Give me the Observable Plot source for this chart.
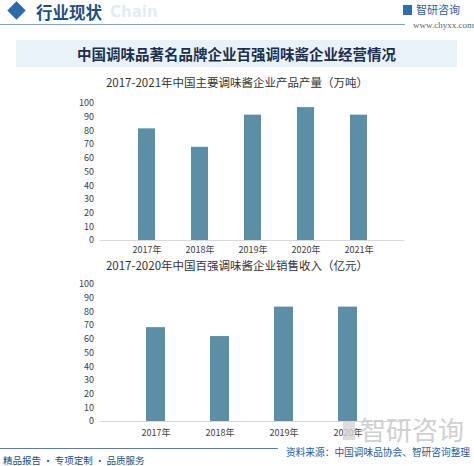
<!DOCTYPE html>
<html>
<head>
<meta charset="utf-8">
<script src="https://cdn.jsdelivr.net/npm/d3@7"></script>
<script src="https://cdn.jsdelivr.net/npm/@observablehq/plot@0.6"></script>
<style>
  html, body { margin: 0; padding: 0; background: #fff; }
  #page { position: relative; width: 474px; height: 466px; overflow: hidden; background: #fff;
          font-family: "Noto Sans CJK SC", "Noto Sans", sans-serif; }
  .abs { position: absolute; white-space: nowrap; }
  .plot { position: absolute; left: 0; }
</style>
</head>
<body>
<div id="page">
  <!-- header -->
  <div class="abs" style="left:10px;top:4px;width:13px;height:13px;background:#2a6aaa;transform:rotate(45deg);"></div>
  <div class="abs" style="left:110px;top:3px;font-family:'DejaVu Sans';font-weight:bold;font-size:15px;line-height:18px;color:#e3ecf5;">Chain</div>
  <div class="abs" style="left:36px;top:1px;font-size:16.5px;line-height:22px;font-weight:bold;color:#1f4f7e;">行业现状</div>
  <div class="abs" style="left:0;top:24px;width:405px;height:1px;background:#7fa6c8;"></div>
  <div class="abs" style="left:403px;top:5px;width:9px;height:10px;background:#2f6cb0;"></div>
  <div class="abs" style="left:416px;top:2px;font-size:11px;line-height:14px;color:#2f62a3;">智研咨询</div>
  <div class="abs" style="left:413px;top:20px;font-family:'Liberation Serif';font-size:9px;line-height:11px;color:#666;">www.chyxx.com</div>

  <!-- title band -->
  <div class="abs" style="left:16px;top:40px;width:441px;height:27px;background:#e9f2f9;"></div>
  <div class="abs" style="left:16px;top:41px;width:441px;text-align:center;font-size:14.5px;font-weight:bold;color:#1c2f4d;line-height:26px;">中国调味品著名品牌企业百强调味酱企业经营情况</div>

  <div class="abs" id="sub1" style="left:0;top:74px;width:474px;text-align:center;font-size:11.5px;color:#333;"></div>
  <div id="chart1" class="plot" style="top:95px;"></div>

  <div class="abs" id="sub2" style="left:0;top:257px;width:474px;text-align:center;font-size:11.5px;color:#333;"></div>
  <div id="chart2" class="plot" style="top:275px;"></div>

  <!-- footer watermark -->
  <div class="abs" style="left:343px;top:421px;width:12px;height:19px;background:#d4d4d4;opacity:0.8;"></div>
  <div class="abs" style="left:360px;top:416px;font-size:26px;line-height:26px;color:#c8c8c8;opacity:0.85;">智研咨询</div>
  <div class="abs" style="left:0;top:448px;width:278px;height:1px;background:#5a7fa8;"></div>
  <div class="abs" style="left:286px;top:447px;font-size:9.7px;line-height:11px;color:#1f5c9c;">资料来源：中国调味品协会、智研咨询整理</div>
  <div class="abs" style="left:3px;top:455px;font-size:9.5px;line-height:11px;color:#1f4e7d;">精品报告 · 专项定制 · 品质服务</div>
</div>
<script>
const subtitle1 = "2017-2021年中国主要调味酱企业产品产量（万吨）";
const years1 = ["2017年", "2018年", "2019年", "2020年", "2021年"];
const output = [81.5, 68, 91.5, 97, 91.5];

const subtitle2 = "2017-2020年中国百强调味酱企业销售收入（亿元）";
const years2 = ["2017年", "2018年", "2019年", "2020年"];
const revenue = [68.5, 62, 83.5, 83.5];

const yTicks = [0, 10, 20, 30, 40, 50, 60, 70, 80, 90, 100];

document.getElementById("sub1").textContent = subtitle1;
document.getElementById("sub2").textContent = subtitle2;

function makeChart(years, values, opts) {
  const data = years.map((y, i) => ({year: y, value: values[i]}));
  return Plot.plot({
    width: 474,
    height: opts.height,
    marginTop: opts.marginTop,
    marginBottom: opts.marginBottom,
    marginLeft: 99.5,
    marginRight: opts.marginRight,
    style: {fontFamily: "'Noto Sans CJK SC', sans-serif", fontSize: "9px", color: "#404040", background: "transparent"},
    x: {domain: years, padding: opts.padding, label: null, tickSize: 0, tickPadding: opts.xPad},
    y: {domain: [0, 100], ticks: yTicks, label: null, tickSize: 0, tickPadding: 6},
    marks: [
      Plot.barY(data, {x: "year", y: "value", fill: "#5b8fa6"}),
      Plot.ruleY([0], {stroke: "#d9d9d9", strokeWidth: 1})
    ]
  });
}

document.getElementById("chart1").appendChild(
  makeChart(years1, output, {height: 165, marginTop: 8, marginBottom: 20, marginRight: 69.5, padding: 0.68, xPad: 6})
);
document.getElementById("chart2").appendChild(
  makeChart(years2, revenue, {height: 166, marginTop: 9, marginBottom: 20, marginRight: 70.5, padding: 0.7, xPad: 8})
);
</script>
</body>
</html>
